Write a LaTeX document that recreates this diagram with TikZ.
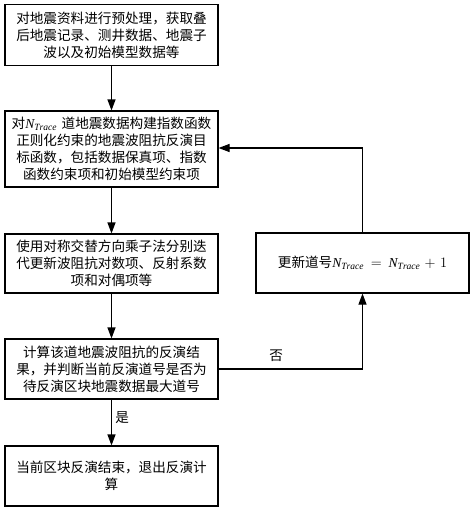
\documentclass[tikz,border=0pt]{standalone}
\usepackage{fontspec}
\setmainfont{Liberation Serif}
\newfontfamily\cjk{Noto Sans CJK SC}
\usetikzlibrary{arrows.meta}
\newcommand{\ntrace}{\mathit{N}_{\mathit{Trace}}}
\begin{document}
\begin{tikzpicture}[x=1pt,y=-1pt,
  line width=1.1pt,step box/.style={rectangle,draw,font=\cjk\fontsize{13.6}{17}\selectfont,
  minimum width=213pt,text width=207pt,align=center,inner sep=0pt},
  >={Triangle[length=11pt,width=8pt]}]

  \useasboundingbox (0,0) rectangle (474,511);

  \node[step box,minimum height=61pt] (1) at (111.5,35) {对地震资料进行预处理，获取叠\\后地震记录、测井数据、地震子\\波以及初始模型数据等};
  \node[step box,minimum height=76pt] (2) at (111.5,149) {对$\ntrace$ 道地震数据构建指数函数\\正则化约束的地震波阻抗反演目\\标函数，包括数据保真项、指数\\函数约束项和初始模型约束项};
  \node[step box,minimum height=59pt] (3) at (111.5,263.5) {使用对称交替方向乘子法分别迭\\代更新波阻抗对数项、反射系数\\项和对偶项等};
  \node[step box,minimum height=60pt] (4) at (111.5,369) {计算该道地震波阻抗的反演结\\果，并判断当前反演道号是否为\\待反演区块地震数据最大道号};
  \node[step box,minimum height=60pt] (5) at (111.5,476) {当前区块反演结束，退出反演计\\算};
  \node[step box,minimum height=60pt] (6) at (362.5,263) {更新道号$\ntrace=\ntrace+1$};

  \coordinate (c1) at (362.5,369);
  \coordinate (c2) at (362.5,148);

  \path[->,every node/.style={font=\cjk\fontsize{13.6}{17}\selectfont}]
   (1) edge (2)
   (2) edge (3)
   (3) edge (4)
   (4) edge node[right,pos=0.4]{是} (5);
  \draw[->] (4.east |- c1) -- node[above=4pt,pos=0.4,font=\cjk\fontsize{13.6}{17}\selectfont]{否} (c1) -- (6);
  \draw[->] (6) -- (c2) -- (2.east |- c2);
\end{tikzpicture}
\end{document}
